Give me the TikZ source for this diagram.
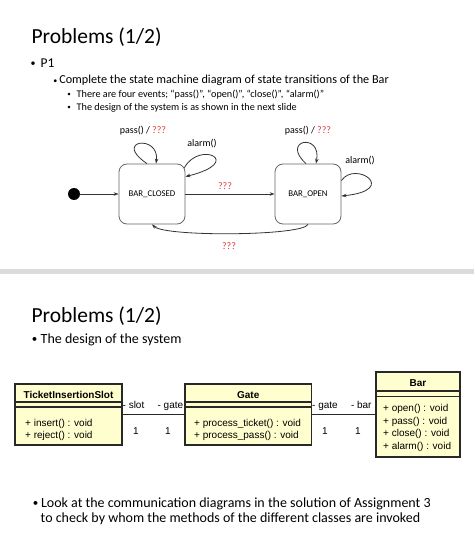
\documentclass[tikz,border=0pt]{standalone}
\usepackage{fontspec}
\setmainfont{Carlito}
\newfontfamily\umlfont{Liberation Sans}
\usetikzlibrary{arrows.meta}
\definecolor{qred}{HTML}{E0383A}
\definecolor{umlfill}{HTML}{FEFECE}
\definecolor{umlline}{HTML}{282828}
\tikzset{
  txt/.style={anchor=base west, inner sep=0pt, outer sep=0pt},
  bul/.style={anchor=base, inner sep=0pt, outer sep=0pt},
  titletxt/.style={txt, font=\fontsize{21.5}{24}\selectfont},
  statebox/.style={draw=black!60, line width=0.8pt, rounded corners=8pt, minimum width=66pt, minimum height=60pt, inner sep=0pt, font=\fontsize{8.8}{10}\selectfont},
  arr/.style={draw=black!80, line width=0.8pt, -{Stealth[length=5pt,width=3.5pt]}},
  slab/.style={inner sep=0pt, anchor=base, font=\fontsize{10}{12}\selectfont},
  umlbox/.style={draw=umlline, fill=umlfill, line width=1.3pt, inner sep=0pt},
  umlsep/.style={draw=umlline, line width=1.1pt},
  umltxt/.style={font=\umlfont\fontsize{10}{12}\selectfont, inner sep=0pt, anchor=base west},
  umlhead/.style={font=\umlfont\bfseries\fontsize{10}{12}\selectfont, inner sep=0pt, anchor=base},
  umllab/.style={font=\umlfont\fontsize{10}{12}\selectfont, inner sep=0pt, anchor=base},
  assoc/.style={draw=umlline, line width=1.1pt},
}
\begin{document}
\begin{tikzpicture}[x=1pt,y=-1pt]
\useasboundingbox (0,0) rectangle (474,545);
\fill[white] (0,0) rectangle (474,545);
\fill[black!14] (0,268.5) rectangle (474,274);

% ---------- slide 1 ----------
\node[titletxt] (t1) at (31.5,44) {Problems (1/2)};
\node[bul, font=\fontsize{10}{12}\selectfont] (bp1) at (33.2,67) {•};
\node[txt, font=\fontsize{13.5}{15}\selectfont] (p1) at (40.7,68) {P1};
\node[bul, font=\fontsize{8}{10}\selectfont] (bb1) at (55.3,83.5) {•};
\node[txt, font=\fontsize{12.2}{14}\selectfont] (b1) at (59.3,84) {Complete the state machine diagram of state transitions of the Bar};
\node[bul, font=\fontsize{7}{8}\selectfont] (bb2) at (69.2,97) {•};
\node[txt, font=\fontsize{10.2}{12}\selectfont] (b2) at (76.7,97.5) {There are four events; “pass()”, “open()”, “close()”, “alarm()”};
\node[bul, font=\fontsize{7}{8}\selectfont] (bb3) at (69.2,110) {•};
\node[txt, font=\fontsize{10.2}{12}\selectfont] (b3) at (76.7,110.5) {The design of the system is as shown in the next slide};

% state machine
\node[statebox] (closed) at (152,194) {BAR\_CLOSED};
\node[statebox] (open) at (308,194) {BAR\_OPEN};
\node[circle, fill=black, minimum size=12pt, inner sep=0pt] (init) at (74,194) {};
\draw[arr] (init) -- (closed);
\draw[arr] (closed) -- (open);
\draw[arr] (open.south) .. controls (303,236) and (165,237) .. (closed.south);
\draw[arr] ([xshift=-5pt]closed.north) .. controls (112,140) and (160,134) .. ([xshift=4pt]closed.north);
\draw[arr] ([xshift=-1pt,yshift=-4pt]closed.north east) .. controls (200,140) and (245,162) .. ([yshift=-13pt]closed.north east);
\draw[arr] ([xshift=-2pt]open.north) .. controls (280,140) and (322,132) .. ([xshift=8pt]open.north);
\draw[arr] ([yshift=-17pt]open.north east) .. controls (355,160) and (400,190) .. ([yshift=-2pt]open.east);
\node[slab] (l1) at (143,133.5) {pass() / \textcolor{qred}{???}};
\node[slab] (l2) at (308,133.5) {pass() / \textcolor{qred}{???}};
\node[slab] (l3) at (202,147) {alarm()};
\node[slab] (l4) at (360,163.5) {alarm()};
\node[slab, text=qred] (l5) at (225,189.5) {???};
\node[slab, text=qred] (l6) at (229,249.5) {???};

% ---------- slide 2 ----------
\node[titletxt] (t2) at (31.5,322) {Problems (1/2)};
\node[bul, font=\fontsize{11}{12}\selectfont] (bd1) at (34.5,342) {•};
\node[txt, font=\fontsize{14}{16}\selectfont] (d1) at (40.7,343) {The design of the system};

% UML classes
\node[umlbox, minimum width=107pt, minimum height=61pt] (tis) at (68.5,414.5) {};
\draw[umlsep] (15,402) -- (122,402) (15,407) -- (122,407);
\node[umlhead] (tish) at (68.5,398.5) {TicketInsertionSlot};
\node[umltxt] (tis1) at (25,426) {+ insert() : void};
\node[umltxt] (tis2) at (25,438.5) {+ reject() : void};

\node[umlbox, minimum width=126.5pt, minimum height=61pt] (gate) at (248.25,414.5) {};
\draw[umlsep] (185,402) -- (311.5,402) (185,407) -- (311.5,407);
\node[umlhead] (gateh) at (248.25,398.5) {Gate};
\node[umltxt] (g1) at (194,426) {+ process\_ticket() : void};
\node[umltxt] (g2) at (194,438.5) {+ process\_pass() : void};

\node[umlbox, minimum width=84pt, minimum height=85pt] (bar) at (418,414.5) {};
\draw[umlsep] (376,391) -- (460,391) (376,396.7) -- (460,396.7);
\node[umlhead] (barh) at (418,386) {Bar};
\node[umltxt] (b01) at (383,411.5) {+ open() : void};
\node[umltxt] (b02) at (383,424) {+ pass() : void};
\node[umltxt] (b03) at (383,436.5) {+ close() : void};
\node[umltxt] (b04) at (383,449) {+ alarm() : void};

\draw[assoc] (tis.east) -- (gate.west);
\draw[assoc] (gate.east) -- (bar.west);
\node[umllab] (a1) at (133.5,408) {- slot};
\node[umllab] (a2) at (170.4,408) {- gate};
\node[umllab] (a3) at (136,434.5) {1};
\node[umllab] (a4) at (168,434.5) {1};
\node[umllab] (a5) at (325,408) {- gate};
\node[umllab] (a6) at (361.3,408) {- bar};
\node[umllab] (a7) at (325,434.5) {1};
\node[umllab] (a8) at (358,434.5) {1};

\node[bul, font=\fontsize{11}{12}\selectfont] (be1) at (35.5,506.5) {•};
\node[txt, font=\fontsize{14}{16}\selectfont] (e1) at (41,507.5) {Look at the communication diagrams in the solution of Assignment 3};
\node[txt, font=\fontsize{14}{16}\selectfont] (e2) at (40.7,522) {to check by whom the methods of the different classes are invoked};
\end{tikzpicture}
\end{document}
